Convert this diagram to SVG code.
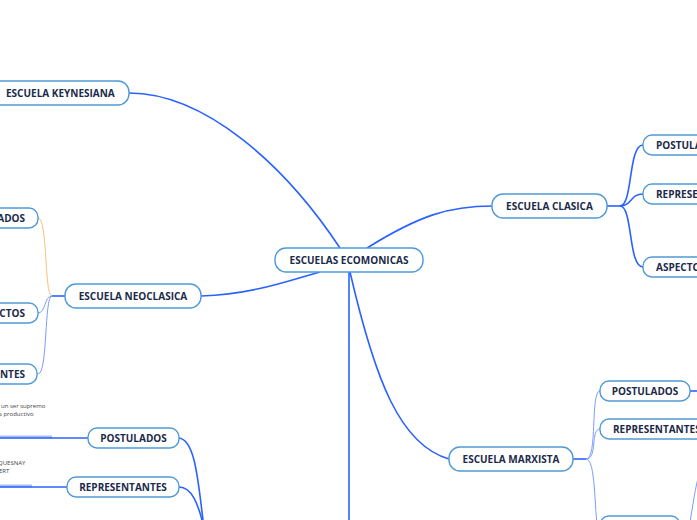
<svg xmlns="http://www.w3.org/2000/svg" width="697" height="520" viewBox="0 0 697 520">
<style>
.n rect{fill:#fff;stroke:#4f9ad6;stroke-width:1.4}
.n text{font-family:"Open Sans","DejaVu Sans",sans-serif;font-weight:700;font-size:10px;fill:#1b2a4a}
.c path{fill:none}
.m{stroke:#2a62ff;stroke-width:1.6}
.s{stroke:#7c9cff;stroke-width:1}
.o{stroke:#f7c27a;stroke-width:1}
.leaf{font-family:"Open Sans","DejaVu Sans",sans-serif;font-size:6px;fill:#444}
</style>
<rect width="697" height="520" fill="#fff"/>
<g id="connectors" class="c">
<path class="m" d="M129,93 C205,93 285,165 340,248"/>
<path class="m" d="M201,296 C255,294 290,280 320,272"/>
<path class="m" d="M367,248 C420,215 450,206 492,206"/>
<path class="m" d="M350,272 C375,380 400,445 449,459"/>
<path class="m" d="M349,272 L349,520"/>
<path class="m" d="M65,296 L52,296"/>
<path class="o" d="M52,296 C44,296 48,218 38,218"/>
<path class="s" d="M52,296 C44,296 46,313 38,313"/>
<path class="s" d="M52,296 C44,296 48,374 38,374"/>
<path class="m" d="M607,206 L620,206"/>
<path class="m" d="M620,206 C633,206 628,145 643,145"/>
<path class="m" d="M620,206 C632,206 630,194 643,194"/>
<path class="m" d="M620,206 C633,206 628,267 643,267"/>
<path class="m" d="M573,459 L586,459"/>
<path class="s" d="M586,459 C598,459 590,391 600,391"/>
<path class="s" d="M586,459 C598,459 590,429 600,429"/>
<path class="s" d="M586,459 C596,459 594,510 598,530"/>
<path class="m" d="M690,391 L697,391"/>
<path class="s" d="M690,522 C693,505 694,495 698,478"/>
<path class="m" d="M179,438 C195,440 198,480 203,520"/>
<path class="m" d="M179,487 C192,487 198,505 202,520"/>
<path stroke="#a9c0f7" stroke-width="3" d="M0,437 L52,437"/>
<path class="m" stroke-width="1.2" d="M0,438 L88,438"/>
<path stroke="#a9c0f7" stroke-width="3" d="M0,486 L32,486"/>
<path class="m" stroke-width="1.2" d="M0,487 L67,487"/>
</g>
<g id="leaf-postulados"><text class="leaf" x="1" y="408">un ser supremo</text><text class="leaf" x="-1" y="416">s productivo</text></g>
<g id="leaf-representantes"><text class="leaf" x="-2" y="465">QUESNAY</text><text class="leaf" x="-1" y="473">ERT</text></g>
<g id="root" class="n"><rect x="275" y="248" width="148" height="24" rx="11"/><text x="349" y="263.5" text-anchor="middle">ESCUELAS ECOMONICAS</text></g>
<g id="keynesiana" class="n"><rect x="-20" y="81" width="149" height="24" rx="11"/><text x="6" y="96.5">ESCUELA KEYNESIANA</text></g>
<g id="neoclasica" class="n"><rect x="65" y="284" width="136" height="24" rx="11"/><text x="133" y="299.5" text-anchor="middle">ESCUELA NEOCLASICA</text></g>
<g id="neo-postulados" class="n"><rect x="-60" y="208" width="98" height="20" rx="9"/><text x="25" y="221.5" text-anchor="end">POSTULADOS</text></g>
<g id="neo-aspectos" class="n"><rect x="-60" y="303" width="98" height="20" rx="9"/><text x="25" y="316.5" text-anchor="end">ASPECTOS</text></g>
<g id="neo-representantes" class="n"><rect x="-80" y="364" width="117" height="20" rx="9"/><text x="25" y="377.5" text-anchor="end">REPRESENTANTES</text></g>
<g id="bl-postulados" class="n"><rect x="88" y="428" width="91" height="20" rx="9"/><text x="133.5" y="441.5" text-anchor="middle">POSTULADOS</text></g>
<g id="bl-representantes" class="n"><rect x="67" y="477" width="112" height="20" rx="9"/><text x="123" y="490.5" text-anchor="middle">REPRESENTANTES</text></g>
<g id="clasica" class="n"><rect x="492" y="194" width="115" height="24" rx="11"/><text x="549.5" y="209.5" text-anchor="middle">ESCUELA CLASICA</text></g>
<g id="cl-postulados" class="n"><rect x="643" y="135" width="91" height="20" rx="9"/><text x="656" y="148.5">POSTULADOS</text></g>
<g id="cl-representantes" class="n"><rect x="643" y="184" width="112" height="20" rx="9"/><text x="656" y="197.5">REPRESENTANTES</text></g>
<g id="cl-aspectos" class="n"><rect x="643" y="257" width="80" height="20" rx="9"/><text x="656" y="270.5">ASPECTOS</text></g>
<g id="marxista" class="n"><rect x="449" y="447" width="124" height="24" rx="11"/><text x="511" y="462.5" text-anchor="middle">ESCUELA MARXISTA</text></g>
<g id="mx-postulados" class="n"><rect x="600" y="381" width="90" height="20" rx="9"/><text x="645" y="394.5" text-anchor="middle">POSTULADOS</text></g>
<g id="mx-representantes" class="n"><rect x="600" y="419" width="112" height="20" rx="9"/><text x="613" y="432.5">REPRESENTANTES</text></g>
<g id="mx-third" class="n"><rect x="600" y="516" width="80" height="20" rx="9"/></g>
</svg>
